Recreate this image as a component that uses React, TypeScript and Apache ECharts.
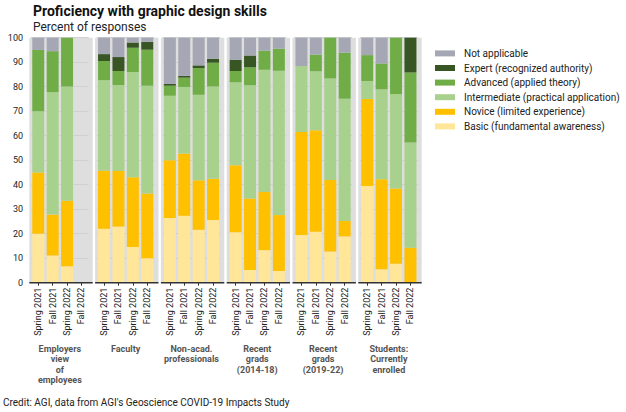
import { useEffect, useRef } from 'react'
import * as echarts from 'echarts'

const PERIODS = ['Spring 2021', 'Fall 2021', 'Spring 2022', 'Fall 2022']
const GROUPS = [
  'Employers\nview\nof\nemployees',
  'Faculty',
  'Non-acad.\nprofessionals',
  'Recent\ngrads\n(2014-18)',
  'Recent\ngrads\n(2019-22)',
  'Students:\nCurrently\nenrolled',
]

// percent of responses per group (rows) and period (columns), bottom of stack first
const basic = [
  [20, 11.1, 6.7, null],
  [22, 22.9, 14.6, 10],
  [26.4, 27.3, 21.6, 25.6],
  [20.6, 5.2, 13.3, 4.8],
  [19.5, 20.8, 12.7, 18.9],
  [39.5, 5.5, 7.7, 0],
]
const novice = [
  [25, 16.7, 26.7, null],
  [23.7, 22.7, 28.4, 26.4],
  [23.6, 25.4, 20.2, 16.8],
  [27.3, 29.2, 23.7, 22.8],
  [42, 41.4, 29.2, 6.3],
  [35.5, 36.7, 30.8, 14.3],
]
const intermediate = [
  [25, 50, 46.7, null],
  [37, 35.1, 43, 44],
  [26.3, 27.2, 34.9, 37.7],
  [33.9, 46.2, 49.9, 58.9],
  [26.9, 24.1, 41.5, 49.9],
  [7.3, 36.7, 38.5, 42.9],
]
const advanced = [
  [25, 16.7, 20, null],
  [7.8, 5.7, 9.9, 14.7],
  [4.1, 3.8, 10.9, 9.7],
  [4.6, 7.3, 7.8, 9],
  [0, 6.8, 16.6, 18.8],
  [10.6, 10.6, 23.1, 28.6],
]
const expert = [
  [0, 0, 0, null],
  [2.8, 5.7, 2.1, 3.2],
  [0.7, 0.7, 1.1, 1.6],
  [4.6, 4.8, 0, 0],
  [0, 0, 0, 0],
  [0, 0, 0, 14.3],
]
const notApplicable = [
  [5, 5.5, 0, null],
  [6.7, 7.9, 2, 1.7],
  [18.9, 15.6, 11.3, 8.6],
  [9, 7.3, 5.3, 4.5],
  [11.6, 6.9, 0, 6.1],
  [7.1, 10.5, 0, 0],
]

const LEVELS = [
  { name: 'Basic (fundamental awareness)', color: '#ffe699', data: basic },
  { name: 'Novice (limited experience)', color: '#ffc000', data: novice },
  { name: 'Intermediate (practical application)', color: '#a9d18e', data: intermediate },
  { name: 'Advanced (applied theory)', color: '#70ad47', data: advanced },
  { name: 'Expert (recognized authority)', color: '#375623', data: expert },
  { name: 'Not applicable', color: '#a5a8b4', data: notApplicable },
]

const FONT = 'Roboto, "Noto Sans", sans-serif'
const TOP = 37.7
const BOTTOM = 282.7
const PANEL_W = 63.4
const panelLeft = (i: number) => 29.3 + i * 65.8

export default function App() {
  const elRef = useRef<HTMLDivElement>(null)

  useEffect(() => {
    if (!elRef.current) return
    const chart = echarts.init(elRef.current, undefined, { renderer: 'svg' })

    const grids = GROUPS.map((_, i) => ({
      left: panelLeft(i) + 1.75,
      top: TOP,
      width: 57.6,
      height: BOTTOM - TOP,
      containLabel: false,
    }))

    const xAxes = GROUPS.map((g, i) => ({
      type: 'category',
      gridIndex: i,
      data: PERIODS,
      axisLine: { show: false },
      axisTick: { show: true, alignWithLabel: true, length: 3, lineStyle: { color: '#333' } },
      axisLabel: { rotate: 90, fontSize: 9, color: '#222', margin: 5, fontFamily: FONT },
      name: g,
      nameLocation: 'middle',
      nameGap: 61,
      nameTextStyle: {
        fontSize: 9,
        fontWeight: 'bold',
        color: '#555',
        lineHeight: 10.5,
        align: 'center',
        verticalAlign: 'top',
        fontFamily: FONT,
      },
    }))

    const yAxes = GROUPS.map((_, i) => ({
      type: 'value',
      gridIndex: i,
      min: 0,
      max: 100,
      interval: 10,
      axisLine: { show: false },
      axisTick: { show: false },
      axisLabel: { show: i === 0, fontSize: 9, color: '#222', margin: 8, fontFamily: FONT },
      splitLine: { show: true, lineStyle: { color: '#d0d0d0', width: 1 } },
    }))

    const series: any[] = []
    GROUPS.forEach((_, i) => {
      LEVELS.forEach((lv) => {
        series.push({
          type: 'bar',
          name: lv.name,
          xAxisIndex: i,
          yAxisIndex: i,
          stack: 'p' + i,
          barWidth: 12,
          itemStyle: { color: lv.color },
          data: lv.data[i],
        })
      })
    })

    const graphics: any[] = []
    GROUPS.forEach((_, i) => {
      graphics.push({
        type: 'rect',
        z: -1,
        shape: { x: panelLeft(i), y: TOP, width: PANEL_W, height: BOTTOM - TOP },
        style: { fill: '#dedede' },
      })
      graphics.push({
        type: 'line',
        z: 10,
        shape: { x1: panelLeft(i), y1: BOTTOM, x2: panelLeft(i) + PANEL_W, y2: BOTTOM },
        style: { stroke: '#333', lineWidth: 1.5 },
      })
    })
    graphics.push({
      type: 'text',
      left: 3,
      top: 397,
      style: {
        text: "Credit: AGI, data from AGI's Geoscience COVID-19 Impacts Study",
        fontSize: 10,
        fill: '#222',
        fontFamily: FONT,
      },
    })

    chart.setOption({
      animation: false,
      backgroundColor: '#fff',
      textStyle: { fontFamily: FONT },
      title: {
        text: 'Proficiency with graphic design skills',
        subtext: 'Percent of responses',
        left: 33,
        top: 4,
        padding: 0,
        itemGap: 3,
        textStyle: { fontSize: 14, fontWeight: 'bold', color: '#111', fontFamily: FONT },
        subtextStyle: { fontSize: 12, color: '#222', fontFamily: FONT },
      },
      legend: {
        orient: 'vertical',
        left: 430,
        top: 42.4,
        itemWidth: 20,
        itemHeight: 6,
        itemGap: 2.6,
        icon: 'rect',
        selectedMode: false,
        data: [...LEVELS].reverse().map((l) => l.name),
        textStyle: { fontSize: 10, color: '#222', lineHeight: 12, padding: [0, 0, 0, 4], fontFamily: FONT },
      },
      grid: grids,
      xAxis: xAxes,
      yAxis: yAxes,
      series,
      graphic: graphics,
    })

    return () => chart.dispose()
  }, [])

  return (
    <div
      ref={elRef}
      style={{ position: 'fixed', left: 0, top: 0, width: 626, height: 412 }}
    />
  )
}
